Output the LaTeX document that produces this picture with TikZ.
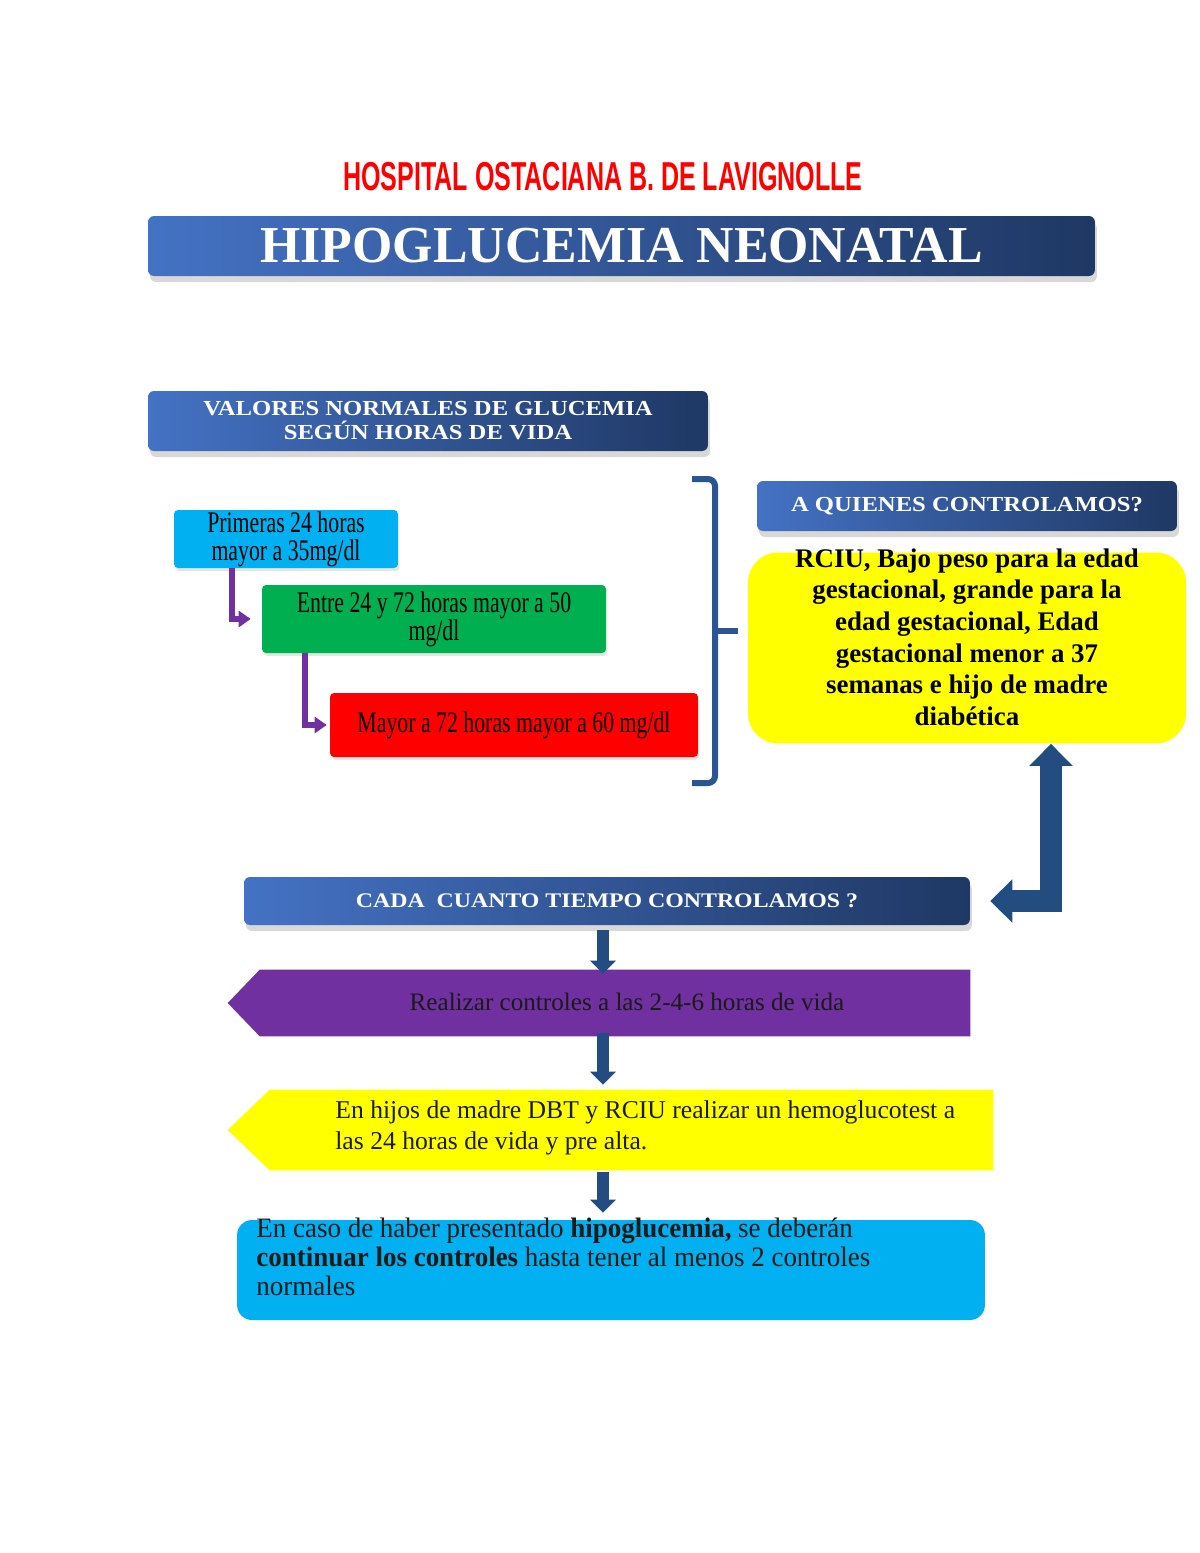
\documentclass[tikz,border=0pt]{standalone}
\usepackage{fontspec}
\setmainfont{Liberation Serif}
\newfontfamily\titlefont[FakeStretch=0.62]{Liberation Sans}
\newfontfamily\widefont[FakeStretch=1.15]{Liberation Serif}
\newfontfamily\condfont[FakeStretch=0.73]{Liberation Serif}
\newfontfamily\narrowfont[FakeStretch=0.96]{Liberation Serif}
\usetikzlibrary{arrows.meta,shadows,positioning}

\definecolor{bannerL}{HTML}{4472C4}
\definecolor{bannerM}{HTML}{3A62B0}
\definecolor{bannerR}{HTML}{1F3864}
\definecolor{cyanbox}{HTML}{00B0F0}
\definecolor{greenbox}{HTML}{00B050}
\definecolor{redbox}{HTML}{FF0000}
\definecolor{purplebox}{HTML}{7030A0}
\definecolor{yellowbox}{HTML}{FFFF00}
\definecolor{arrowblue}{HTML}{234C80}
\definecolor{braceblue}{HTML}{2B5592}
\definecolor{textdark}{HTML}{1A1A1A}

\tikzset{
  banner/.style={rounded corners=0.12cm, left color=bannerL, middle color=bannerM, right color=bannerR,
    text=white, inner sep=0pt,
    drop shadow={shadow xshift=0.04cm, shadow yshift=-0.12cm, opacity=0.3}},
  valbox/.style={rounded corners=0.08cm, inner sep=0pt, align=center,
    font=\condfont\fontsize{17}{16}\selectfont,
    drop shadow={shadow xshift=0.03cm, shadow yshift=-0.06cm, opacity=0.2}},
  elbow/.style={draw=purplebox, line width=0.12cm, -{Triangle[width=0.32cm,length=0.24cm]}},
  downarrow/.style={draw=arrowblue, line width=0.24cm, -{Triangle[width=0.5cm,length=0.26cm]}},
  bigarrow/.style={draw=arrowblue, line width=0.44cm, line join=miter,
    {Triangle[width=0.84cm,length=0.44cm]}-{Triangle[width=0.84cm,length=0.44cm]}},
  brace/.style={draw=braceblue, line width=0.12cm, rounded corners=0.14cm},
}

\begin{document}
\begin{tikzpicture}[x=0.02cm, y=-0.02cm]
    \useasboundingbox (0,0) rectangle (1200,1553);
    \fill[white] (0,0) rectangle (1200,1553);

    % Header
    \node[font=\titlefont\bfseries\fontsize{23}{25}\selectfont, text=redbox] (hospital) at (603,177) {HOSPITAL OSTACIANA B. DE LAVIGNOLLE};
    \node[banner, minimum width=18.94cm, minimum height=1.2cm, font=\bfseries\fontsize{29.5}{31}\selectfont] (titulo) at (621.5,246) {HIPOGLUCEMIA NEONATAL};

    % Valores normales
    \node[banner, minimum width=11.2cm, minimum height=1.2cm, align=center, font=\widefont\bfseries\fontsize{12.2}{13.6}\selectfont] (valores) at (428,421) {VALORES NORMALES DE GLUCEMIA\\SEGÚN HORAS DE VIDA};
    \node[valbox, fill=cyanbox, minimum width=4.48cm, minimum height=1.16cm] (prim) at (286,539) {Primeras 24 horas\\mayor a 35mg/dl};
    \node[valbox, fill=greenbox, minimum width=6.88cm, minimum height=1.36cm] (entre) at (434,619) {Entre 24 y 72 horas mayor a 50\\mg/dl};
    \node[valbox, fill=redbox, minimum width=7.36cm, minimum height=1.28cm] (mayor) at (514,725) {Mayor a 72 horas mayor a 60 mg/dl};

    \draw[elbow] ([xshift=1.16cm]prim.south west) |- ([xshift=-0.22cm]entre.west);
    \draw[elbow] ([xshift=0.86cm]entre.south west) |- ([xshift=-0.06cm]mayor.west);

    % Brace
    \draw[brace] (692,479) -- (715,479) -- (715,783) -- (692,783);
    \draw[brace] (715,631) -- (738,631);

    % A quienes
    \node[banner, minimum width=8.4cm, minimum height=1cm, font=\widefont\bfseries\fontsize{12.2}{13}\selectfont] (quienes) at (967,506) {A QUIENES CONTROLAMOS?};
    \node[fill=yellowbox, rounded corners=0.6cm, minimum width=8.76cm, minimum height=3.82cm, inner sep=0pt] (quien) at (967,648) {};
    \node[font=\bfseries\fontsize{15.3}{18}\selectfont, align=center, inner sep=0pt] (quientxt) at (967,637) {RCIU, Bajo peso para la edad\\gestacional, grande para la\\edad gestacional, Edad\\gestacional menor a 37\\semanas e hijo de madre\\diabética};

    % Cada cuanto
    \node[banner, minimum width=14.52cm, minimum height=0.96cm, font=\widefont\bfseries\fontsize{11.8}{12}\selectfont] (cada) at (607,901) {CADA\ \ CUANTO TIEMPO CONTROLAMOS ?};
    \draw[bigarrow] ([xshift=1.68cm]quien.south) |- ([xshift=0.4cm]cada.east);

    \node[minimum width=14.2cm, minimum height=1.32cm, inner sep=0pt] (realbox) at (615,1003) {};
    \fill[purplebox] ([xshift=-0.64cm]realbox.west) -- (realbox.north west) -- (realbox.north east) -- (realbox.south east) -- (realbox.south west) -- cycle;
    \node[font=\fontsize{14.3}{16}\selectfont, text=textdark, inner sep=0pt] (realizar) at (627,1002) {Realizar controles a las 2-4-6 horas de vida};

    \node[minimum width=14.46cm, minimum height=1.6cm, inner sep=0pt] (hijbox) at (631.5,1130) {};
    \fill[yellowbox] ([xshift=-0.84cm]hijbox.west) -- (hijbox.north west) -- (hijbox.north east) -- (hijbox.south east) -- (hijbox.south west) -- cycle;
    \node[font=\fontsize{14.6}{18}\selectfont, text=textdark, align=left, anchor=west, inner sep=0pt] (hijos) at (335,1128) {En hijos de madre DBT y RCIU realizar un hemoglucotest a\\las 24 horas de vida y pre alta.};

    \node[fill=cyanbox, rounded corners=0.3cm, minimum width=14.96cm, minimum height=2cm, inner sep=0pt] (casobox) at (611,1270) {};
    \node[font=\narrowfont\fontsize{16}{16.4}\selectfont, text=textdark, align=left, anchor=west, inner sep=0pt] (caso) at (256,1257) {En caso de haber presentado \textbf{hipoglucemia,} se deberán\\\textbf{continuar los controles} hasta tener al menos 2 controles\\normales};

    % Flow arrows
    \draw[downarrow] ([xshift=-0.08cm,yshift=-0.1cm]cada.south) -- ([xshift=-0.08cm,yshift=-0.08cm]cada.south |- realbox.north);
    \draw[downarrow] ([xshift=-0.24cm,yshift=0.06cm]realbox.south) -- ([xshift=-0.24cm,yshift=0.1cm]realbox.south |- hijbox.north);
    \draw[downarrow] ([xshift=-0.57cm,yshift=-0.04cm]hijbox.south) -- ([xshift=-0.57cm,yshift=0.14cm]hijbox.south |- casobox.north);
\end{tikzpicture}
\end{document}
